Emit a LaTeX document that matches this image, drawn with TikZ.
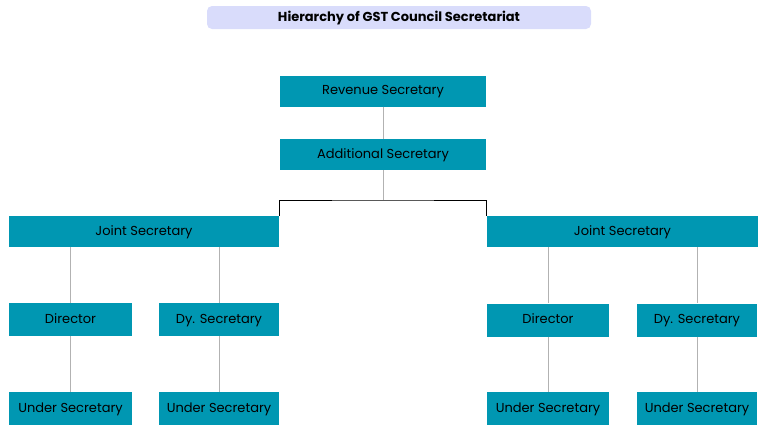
\documentclass[tikz,border=0pt]{standalone}
\usepackage{fontspec}
\setmainfont{Poppins}
\usepackage{xcolor}
\usetikzlibrary{positioning,calc}
\definecolor{teal}{HTML}{0097B2}
\definecolor{lavender}{HTML}{D9DCFB}

\begin{document}
\begin{tikzpicture}[
    x=1pt, y=-1pt,
    post/.style={fill=teal, text=black, inner sep=0pt, font=\fontsize{13}{15}\selectfont,
        text height=1.45ex, text depth=0pt, minimum height=31pt},
    wide/.style={post, minimum width=270pt},
    mid/.style={post, minimum width=206pt},
    small/.style={post, minimum width=122pt, minimum height=33pt},
    heading/.style={fill=lavender, rounded corners=5pt, inner sep=0pt,
        text height=1.45ex, text depth=0pt,
        minimum width=384pt, minimum height=23pt,
        font=\fontsize{13}{15}\selectfont\bfseries},
    link/.style={draw=black!30, line width=0.8pt},
    bracket/.style={draw=black, line width=0.8pt},
]
\useasboundingbox (0,0) rectangle (768,431);

\node[heading] (title) at (399,17.5) {Hierarchy of GST Council Secretariat};

\node[mid] (rev) at (383,91) {Revenue Secretary};
\node[mid] (add) at (383,154.5) {Additional Secretary};
\coordinate (split) at (383,200);

\node[wide] (jsl) at (144,231.5) {Joint Secretary};
\node[wide, minimum width=271pt] (jsr) at (622.5,231.5) {Joint Secretary};

\node[small, minimum width=123pt] (dirl) at (70.5,319.5) {Director};
\node[small, minimum width=120pt] (dyl) at (219,319.5) {Dy. Secretary};
\node[small, minimum width=123pt] (usl) at (70.5,408.5) {Under Secretary};
\node[small, minimum width=120pt] (usdl) at (219,408.5) {Under Secretary};

\node[small] (dirr) at (548,320) {Director};
\node[small, minimum width=120pt] (dyr) at (697,320) {Dy. Secretary};
\node[small] (usr) at (548,408.5) {Under Secretary};
\node[small, minimum width=120pt] (usdr) at (697,408.5) {Under Secretary};

\draw[link] (rev) -- (add);
\draw[link] (add) -- (split);
\draw[bracket] (jsl.north east) |- (split) -| (jsr.north west);

\draw[link] (jsl.south -| dirl.north) -- (dirl);
\draw[link] (jsl.south -| dyl.north) -- (dyl);
\draw[link] (dirl) -- (usl);
\draw[link] (dyl) -- (usdl);

\draw[link] (jsr.south -| dirr.north) -- (dirr);
\draw[link] (jsr.south -| dyr.north) -- (dyr);
\draw[link] (dirr) -- (usr);
\draw[link] (dyr) -- (usdr);
\end{tikzpicture}
\end{document}
